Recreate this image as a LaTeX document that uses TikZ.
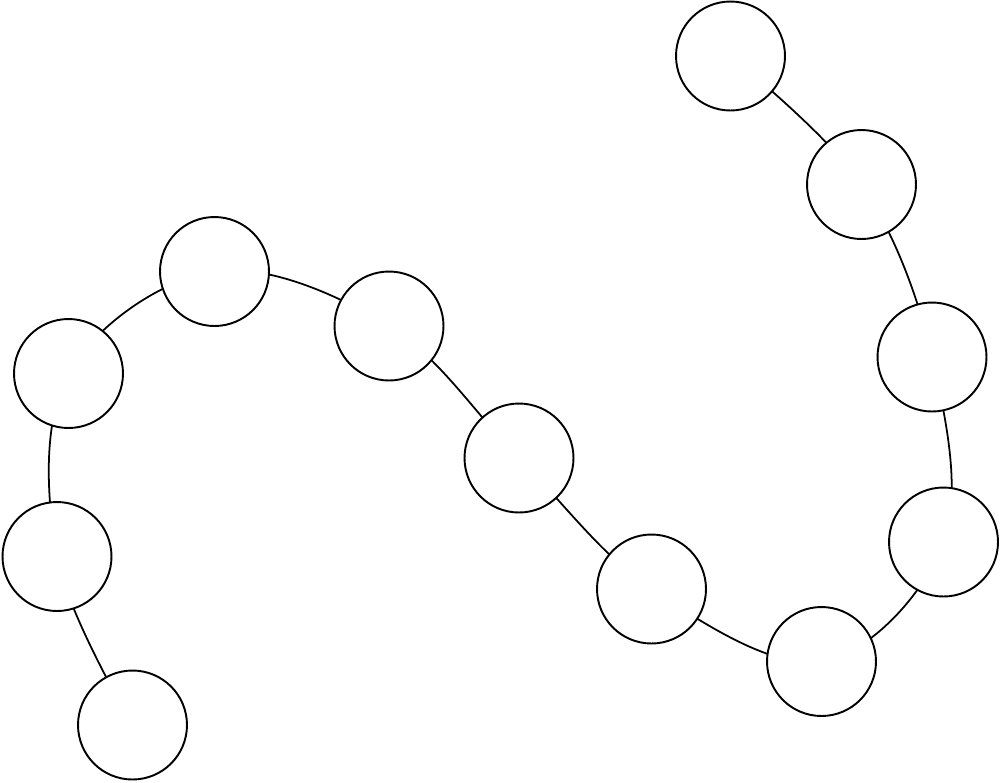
\documentclass[tikz,border=0pt]{standalone}
\begin{document}
\begin{tikzpicture}[x=0.02cm,y=-0.02cm,
  bead/.style={circle,draw=black,fill=white,line width=1.1pt,minimum size=2.18cm,inner sep=0pt},
  chain/.style={draw=black,line width=1pt}]
\useasboundingbox (0,0) rectangle (1000,782);
\coordinate (c1) at (730.5,56);
\coordinate (c2) at (861.5,184.5);
\coordinate (c3) at (932,357);
\coordinate (c4) at (943.5,542);
\coordinate (c5) at (821.5,661.5);
\coordinate (c6) at (651.5,589);
\coordinate (c7) at (519,458);
\coordinate (c8) at (389,326);
\coordinate (c9) at (214.5,271.5);
\coordinate (c10) at (68.5,373.5);
\coordinate (c11) at (57,556.5);
\coordinate (c12) at (132.5,725);
\draw[chain] plot[smooth,tension=0.6] coordinates {(c1) (c2) (c3) (c4) (c5) (c6) (c7) (c8) (c9) (c10) (c11) (c12)};
\foreach \i in {1,...,12} {\node[bead] (n\i) at (c\i) {};}
\end{tikzpicture}
\end{document}
